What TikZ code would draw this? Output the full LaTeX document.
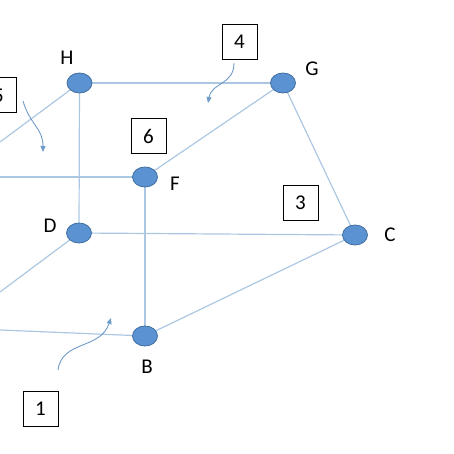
\documentclass[tikz,border=0pt]{standalone}
\usepackage{fontspec}
\setmainfont{Carlito}
\usetikzlibrary{arrows.meta,shapes.geometric}
\definecolor{nodefill}{RGB}{91,146,210}
\definecolor{nodeedge}{RGB}{66,110,160}
\definecolor{edgecol}{RGB}{172,199,226}
\definecolor{arrcol}{RGB}{110,155,200}
\tikzset{
  vert/.style={ellipse, draw=nodeedge, fill=nodefill, line width=0.8pt, minimum width=25pt, minimum height=20pt, inner sep=0pt},
  lab/.style={font=\fontsize{21}{23}\selectfont, inner sep=0pt},
  numbox/.style={draw=black, line width=1pt, minimum width=35pt, minimum height=35pt, inner sep=0pt, font=\fontsize{21}{23}\selectfont},
  edge/.style={draw=edgecol, line width=1.2pt},
  carr/.style={draw=arrcol, line width=0.9pt, -{Triangle[length=6pt,width=5pt]}}
}
\begin{document}
\begin{tikzpicture}[x=1pt,y=-1pt]
\useasboundingbox (0,0) rectangle (454,454);
\clip (0,0) rectangle (454,454);
% free ends at the left edge
\coordinate (Lh) at (0,142);
\coordinate (Lf) at (0,177);
\coordinate (Ld) at (0,292);
\coordinate (Lb) at (0,330);
% vertex positions
\coordinate (pH) at (79.5,83);
\coordinate (pG) at (283,83);
\coordinate (pF) at (145,177);
\coordinate (pD) at (79,233);
\coordinate (pC) at (355,235);
\coordinate (pB) at (145,336);
% edges (drawn first, under the vertices)
\path[edge] (pH) -- (pG);
\path[edge] (pH) -- (pD);
\path[edge] (pH) -- (Lh);
\path[edge] (pG) -- (pF);
\path[edge] (pG) -- (pC);
\path[edge] (pF) -- (pB);
\path[edge] (pF) -- (Lf);
\path[edge] (pD) -- (pC);
\path[edge] (pD) -- (Ld);
\path[edge] (pB) -- (pC);
\path[edge] (pB) -- (Lb);
% vertices
\node[vert] (H) at (pH) {};
\node[vert] (G) at (pG) {};
\node[vert] (F) at (pF) {};
\node[vert] (D) at (pD) {};
\node[vert] (C) at (pC) {};
\node[vert] (B) at (pB) {};
% labels
\node[lab] (lH) at (67,58) {H};
\node[lab] (lG) at (312,69) {G};
\node[lab] (lF) at (175,184) {F};
\node[lab] (lD) at (50,226) {D};
\node[lab] (lC) at (390,235) {C};
\node[lab] (lB) at (147,367) {B};
% number boxes
\node[numbox] (b4) at (239.5,42) {4};
\node[numbox] (b6) at (148.5,136) {6};
\node[numbox] (b3) at (300.5,203) {3};
\node[numbox] (b1) at (40.5,408.5) {1};
\node[numbox] (b5) at (-1.5,95.5) {5};
% curved arrows
\coordinate (a5s) at (23,101);
\coordinate (a5e) at (43,152);
\coordinate (a4s) at (234,63);
\coordinate (a4e) at (208,103);
\coordinate (a1s) at (58,370);
\coordinate (a1e) at (111,318);
\draw[carr] (a5s) .. controls (30,125) and (43,128) .. (a5e);
\draw[carr] (a4s) .. controls (234,85) and (212,82) .. (a4e);
\draw[carr] (a1s) .. controls (62,340) and (100,350) .. (a1e);
\end{tikzpicture}
\end{document}
